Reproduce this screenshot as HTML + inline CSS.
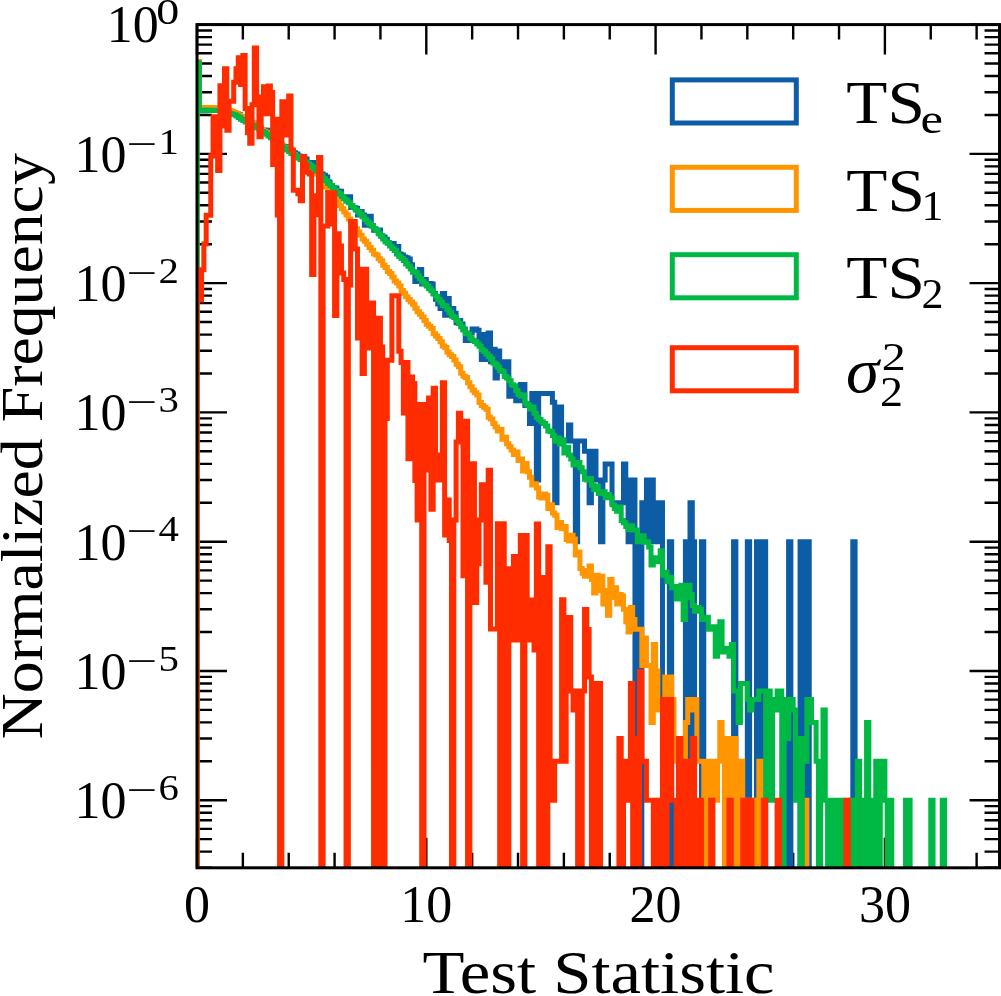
<!DOCTYPE html>
<html lang="en"><head><meta charset="utf-8"><title>Test Statistic</title>
<style>html,body{margin:0;padding:0;background:#fff}svg{display:block}</style></head>
<body>
<svg width="1001" height="996" viewBox="0 0 1001 996" style="display:block">
<defs><clipPath id="ax"><rect x="197.00" y="24.60" width="802.55" height="843.20"/></clipPath></defs>
<rect width="1001" height="996" fill="#fff"/>
<path d="M197.00,867.80v-30M197.00,24.60v30M242.86,867.80v-15M242.86,24.60v15M288.72,867.80v-15M288.72,24.60v15M334.58,867.80v-15M334.58,24.60v15M380.44,867.80v-15M380.44,24.60v15M426.30,867.80v-30M426.30,24.60v30M472.16,867.80v-15M472.16,24.60v15M518.02,867.80v-15M518.02,24.60v15M563.88,867.80v-15M563.88,24.60v15M609.74,867.80v-15M609.74,24.60v15M655.60,867.80v-30M655.60,24.60v30M701.46,867.80v-15M701.46,24.60v15M747.32,867.80v-15M747.32,24.60v15M793.18,867.80v-15M793.18,24.60v15M839.04,867.80v-15M839.04,24.60v15M884.90,867.80v-30M884.90,24.60v30M930.76,867.80v-15M930.76,24.60v15M976.62,867.80v-15M976.62,24.60v15M197.00,24.60h30M999.55,24.60h-30M197.00,153.87h30M999.55,153.87h-30M197.00,114.96h15M999.55,114.96h-15M197.00,92.19h15M999.55,92.19h-15M197.00,76.04h15M999.55,76.04h-15M197.00,63.51h15M999.55,63.51h-15M197.00,53.28h15M999.55,53.28h-15M197.00,44.62h15M999.55,44.62h-15M197.00,37.13h15M999.55,37.13h-15M197.00,30.52h15M999.55,30.52h-15M197.00,283.14h30M999.55,283.14h-30M197.00,244.23h15M999.55,244.23h-15M197.00,221.46h15M999.55,221.46h-15M197.00,205.31h15M999.55,205.31h-15M197.00,192.78h15M999.55,192.78h-15M197.00,182.55h15M999.55,182.55h-15M197.00,173.89h15M999.55,173.89h-15M197.00,166.40h15M999.55,166.40h-15M197.00,159.79h15M999.55,159.79h-15M197.00,412.41h30M999.55,412.41h-30M197.00,373.50h15M999.55,373.50h-15M197.00,350.73h15M999.55,350.73h-15M197.00,334.58h15M999.55,334.58h-15M197.00,322.05h15M999.55,322.05h-15M197.00,311.82h15M999.55,311.82h-15M197.00,303.16h15M999.55,303.16h-15M197.00,295.67h15M999.55,295.67h-15M197.00,289.06h15M999.55,289.06h-15M197.00,541.68h30M999.55,541.68h-30M197.00,502.77h15M999.55,502.77h-15M197.00,480.00h15M999.55,480.00h-15M197.00,463.85h15M999.55,463.85h-15M197.00,451.32h15M999.55,451.32h-15M197.00,441.09h15M999.55,441.09h-15M197.00,432.43h15M999.55,432.43h-15M197.00,424.94h15M999.55,424.94h-15M197.00,418.33h15M999.55,418.33h-15M197.00,670.95h30M999.55,670.95h-30M197.00,632.04h15M999.55,632.04h-15M197.00,609.27h15M999.55,609.27h-15M197.00,593.12h15M999.55,593.12h-15M197.00,580.59h15M999.55,580.59h-15M197.00,570.36h15M999.55,570.36h-15M197.00,561.70h15M999.55,561.70h-15M197.00,554.21h15M999.55,554.21h-15M197.00,547.60h15M999.55,547.60h-15M197.00,800.22h30M999.55,800.22h-30M197.00,761.31h15M999.55,761.31h-15M197.00,738.54h15M999.55,738.54h-15M197.00,722.39h15M999.55,722.39h-15M197.00,709.86h15M999.55,709.86h-15M197.00,699.63h15M999.55,699.63h-15M197.00,690.97h15M999.55,690.97h-15M197.00,683.48h15M999.55,683.48h-15M197.00,676.87h15M999.55,676.87h-15M197.00,867.81h15M999.55,867.81h-15M197.00,851.66h15M999.55,851.66h-15M197.00,839.13h15M999.55,839.13h-15M197.00,828.90h15M999.55,828.90h-15M197.00,820.24h15M999.55,820.24h-15M197.00,812.75h15M999.55,812.75h-15M197.00,806.14h15M999.55,806.14h-15" stroke="#000" stroke-width="2.4" fill="none"/>
<g clip-path="url(#ax)" fill="none" stroke-width="5.00" stroke-linejoin="miter" stroke-miterlimit="10">
<path stroke="#0C5DA5" d="M197.00,897.8V64.0H199.29V110.8H201.59V107.7H203.88V110.7H206.17V108.9H208.47V108.0H210.76V109.2H213.05V109.0H215.34V109.6H217.64V108.2H219.93V109.9H222.22V108.0H224.52V110.4H226.81V111.4H229.10V111.2H231.40V113.8H233.69V114.3H235.98V113.8H238.27V114.8H240.57V117.0H242.86V119.3H245.15V118.5H247.45V119.9H249.74V122.7H252.03V123.1H254.32V123.4H256.62V126.3H258.91V127.6H261.20V131.1H263.50V130.1H265.79V130.2H268.08V132.6H270.38V135.6H272.67V136.4H274.96V143.1H277.25V144.1H279.55V144.6H281.84V147.1H284.13V146.6H286.43V149.8H288.72V148.9H291.01V150.7H293.31V152.8H295.60V153.9H297.89V156.1H300.19V157.9H302.48V159.4H304.77V159.1H307.06V164.0H309.36V164.4H311.65V162.4H313.94V168.5H316.24V170.0H318.53V171.9H320.82V174.1H323.12V175.3H325.41V177.1H327.70V181.9H329.99V185.7H332.29V187.6H334.58V187.9H336.87V191.1H339.17V191.3H341.46V198.0H346.05V200.8H348.34V196.8H350.63V207.4H352.92V207.6H355.22V208.2H357.51V215.0H359.80V211.6H362.10V215.1H364.39V225.3H366.68V223.8H368.98V216.3H371.27V225.7H373.56V230.2H375.85V230.6H378.15V230.0H380.44V235.9H382.73V237.1H385.03V239.2H387.32V242.7H389.61V243.6H394.20V248.6H396.49V246.5H398.78V253.9H401.08V254.9H403.37V257.0H405.66V257.8H407.96V258.9H410.25V264.8H412.54V271.9H414.84V281.6H419.42V269.6H421.71V283.9H424.01V279.4H426.30V285.1H428.59V283.4H430.89V283.9H433.18V293.5H435.47V299.3H437.76V304.1H440.06V308.5H442.35V293.5H444.64V315.2H446.94V298.5H449.23V313.2H451.52V308.5H453.82V313.2H456.11V322.8H458.40V320.6H460.69V324.0H462.99V329.0H465.28V340.6H469.87V333.1H472.16V329.0H476.75V330.3H479.04V342.2H481.33V359.5H483.62V334.5H485.92V359.5H488.21V333.1H490.50V361.8H492.80V349.2H495.09V377.9H497.38V351.1H499.68V361.8H501.97V366.6H504.26V372.0H506.56V361.8H508.85V396.2H511.14V392.0H513.43V388.1H515.73V400.7H520.31V384.5H524.90V405.6H529.49V423.4H531.78V393.5H536.36V480.0H538.66V393.5H552.41V402.2H554.71V502.8H557.00V407.1H561.59V441.1H568.47V424.9H570.76V441.1H575.35V541.7H577.64V441.1H584.52V451.3H589.10V502.8H591.40V451.3H595.98V480.0H600.57V541.7H602.86V480.0H605.15V463.9H612.03V502.8H623.50V463.9H625.79V480.0H628.08V541.7H630.38V480.0H634.96V897.8H637.26V541.7H639.55V897.8H641.84V502.8H644.13V541.7H646.43V480.0H648.72V541.7H651.01V480.0H653.31V541.7H655.60V502.8H657.89V541.7H660.19V502.8H662.48V897.8H669.36V541.7H671.65V897.8H685.41V541.7H687.70V897.8H690.00V502.8H692.29V541.7H694.58V897.8H701.46V541.7H703.75V897.8H733.56V541.7H735.86V897.8H747.32V541.7H749.61V897.8H756.49V541.7H758.79V897.8H761.08V541.7H765.66V897.8H788.59V541.7H790.89V897.8H800.06V541.7H802.35V897.8H804.65V541.7H809.23V897.8H852.80V541.7H855.09V897.8H999.55V897.8"/>
<path stroke="#FF9500" d="M197.00,897.8V61.5H199.29V107.4H201.59V107.4H203.88V107.4H206.17V107.5H208.47V107.6H210.76V107.7H213.05V107.5H215.34V107.4H217.64V107.7H219.93V108.2H222.22V108.6H224.52V109.0H226.81V109.8H229.10V110.5H231.40V111.6H233.69V112.4H235.98V113.4H238.27V115.2H240.57V117.0H242.86V118.1H245.15V119.4H247.45V120.6H249.74V121.9H252.03V123.3H254.32V124.9H256.62V126.2H258.91V127.8H261.20V129.7H263.50V131.2H265.79V132.6H268.08V134.7H270.38V136.1H272.67V138.0H274.96V140.1H277.25V142.4H279.55V144.1H281.84V145.7H284.13V147.5H286.43V149.5H288.72V151.1H291.01V152.8H293.31V154.7H295.60V156.7H297.89V157.8H300.19V159.7H302.48V161.4H304.77V162.9H307.06V164.9H309.36V166.5H311.65V168.8H313.94V171.3H316.24V174.0H318.53V177.2H320.82V180.0H323.12V184.3H325.41V186.8H327.70V189.8H329.99V193.0H332.29V196.2H334.58V198.7H336.87V201.3H339.17V205.5H341.46V208.7H343.75V211.9H346.05V215.1H348.34V219.1H350.63V222.1H352.92V225.6H355.22V228.8H357.51V231.9H359.80V235.3H362.10V239.1H364.39V241.3H366.68V244.2H368.98V247.5H371.27V250.2H373.56V254.1H375.85V255.0H378.15V258.7H380.44V260.7H382.73V265.2H385.03V267.5H387.32V271.5H389.61V273.5H391.90V277.0H394.20V280.9H396.49V282.9H398.78V285.9H401.08V290.4H403.37V293.2H405.66V296.7H407.96V299.6H410.25V301.9H412.54V304.3H414.84V308.3H417.13V311.7H419.42V314.3H421.71V316.9H424.01V320.5H426.30V324.3H428.59V326.3H430.89V328.4H433.18V333.7H435.47V336.0H437.76V338.5H440.06V341.8H442.35V345.9H444.64V347.6H446.94V352.1H449.23V354.7H451.52V356.5H453.82V360.0H456.11V364.3H458.40V366.7H460.69V373.2H462.99V376.3H465.28V377.5H467.57V382.8H469.87V386.8H472.16V390.3H474.45V392.8H476.75V395.0H479.04V402.5H481.33V405.5H483.62V407.3H485.92V409.3H488.21V417.3H490.50V419.0H492.80V423.5H495.09V427.0H497.38V431.0H499.68V429.2H501.97V439.2H504.26V437.2H506.56V443.7H508.85V446.8H511.14V450.0H513.43V454.4H515.73V452.0H518.02V460.4H520.31V459.1H522.61V470.9H524.90V463.4H527.19V471.7H529.49V477.3H531.78V484.9H534.07V483.7H536.36V488.0H538.66V496.9H540.95V497.9H543.24V494.0H545.54V495.2H547.83V508.4H550.12V504.8H552.41V512.9H554.71V515.3H557.00V527.4H559.29V522.4H561.59V528.7H563.88V526.5H566.17V539.5H568.47V541.1H570.76V535.3H573.05V538.9H575.35V554.9H577.64V552.1H579.93V568.5H582.22V573.2H584.52V576.3H586.81V570.4H589.10V565.9H591.40V579.5H593.69V593.1H595.98V575.2H598.28V590.4H600.57V576.3H602.86V603.9H605.15V590.4H607.45V615.2H609.74V579.5H612.03V597.5H614.33V587.8H616.62V603.9H618.91V594.5H621.21V596.0H623.50V609.3H625.79V621.8H628.08V632.0H630.38V607.4H632.67V619.5H634.96V629.3H641.84V665.6H644.13V638.0H646.43V665.6H651.01V722.4H653.31V644.6H655.60V671.0H657.89V709.9H660.19V699.6H664.77V676.9H667.07V722.4H669.36V676.9H671.65V699.6H673.94V738.5H676.24V761.3H678.53V738.5H680.82V800.2H685.41V722.4H687.70V699.6H690.00V709.9H692.29V699.6H696.87V761.3H703.75V897.8H706.05V761.3H708.34V897.8H710.63V761.3H715.22V800.2H717.51V761.3H719.80V722.4H722.10V738.5H724.39V897.8H726.68V738.5H728.98V897.8H731.27V800.2H733.56V738.5H735.86V897.8H738.15V761.3H742.73V897.8H745.03V800.2H747.32V897.8H749.61V800.2H751.91V897.8H754.20V800.2H756.49V897.8H758.79V761.3H763.37V897.8H804.65V800.2H806.94V897.8H999.55V897.8"/>
<path stroke="#00B945" d="M197.00,897.8V62.7H199.29V110.6H201.59V110.4H203.88V110.2H206.17V110.1H208.47V110.4H210.76V110.5H213.05V110.3H215.34V110.4H217.64V110.6H219.93V110.6H222.22V111.2H224.52V111.7H226.81V112.5H229.10V113.4H231.40V114.3H233.69V114.8H235.98V116.0H238.27V117.5H240.57V119.3H242.86V120.6H245.15V122.0H247.45V122.7H249.74V124.2H252.03V125.2H254.32V126.6H256.62V128.1H258.91V129.6H261.20V131.4H263.50V132.6H265.79V134.2H268.08V136.0H270.38V137.7H272.67V139.2H274.96V141.2H277.25V142.9H279.55V144.8H281.84V146.4H284.13V148.2H286.43V149.7H288.72V151.6H291.01V153.4H293.31V155.1H295.60V156.2H297.89V157.9H300.19V159.5H302.48V160.9H304.77V162.3H307.06V163.8H309.36V165.2H311.65V167.1H313.94V169.1H316.24V171.3H318.53V173.2H320.82V176.1H323.12V178.5H325.41V180.7H327.70V183.6H329.99V185.5H332.29V187.5H334.58V190.2H336.87V192.7H339.17V194.3H341.46V196.5H343.75V198.9H346.05V201.1H348.34V202.7H350.63V205.5H352.92V207.6H355.22V209.9H357.51V212.3H359.80V214.3H362.10V216.7H364.39V219.4H366.68V222.0H368.98V223.8H371.27V226.3H373.56V228.6H375.85V230.5H378.15V233.8H380.44V235.8H382.73V239.0H385.03V241.8H387.32V243.2H389.61V246.0H391.90V248.4H394.20V250.5H396.49V253.9H398.78V256.4H401.08V258.4H403.37V260.4H405.66V263.9H407.96V266.3H410.25V269.1H412.54V271.9H414.84V272.6H417.13V275.7H419.42V278.4H421.71V281.4H424.01V283.6H426.30V286.0H428.59V288.8H430.89V290.7H433.18V293.9H435.47V296.2H437.76V299.2H440.06V302.1H442.35V305.4H444.64V306.1H446.94V309.3H449.23V312.6H451.52V316.3H453.82V317.5H456.11V320.4H458.40V323.5H460.69V326.7H462.99V329.9H465.28V333.5H467.57V334.0H469.87V338.2H472.16V340.2H474.45V341.6H476.75V343.9H479.04V346.2H481.33V349.7H483.62V351.5H485.92V354.1H488.21V356.4H490.50V359.0H492.80V362.9H495.09V364.8H497.38V367.2H499.68V370.4H501.97V371.4H504.26V376.5H506.56V377.9H508.85V380.8H511.14V384.8H513.43V385.7H515.73V390.4H518.02V394.4H520.31V395.9H522.61V395.0H524.90V403.2H527.19V404.9H529.49V408.9H531.78V406.9H534.07V413.2H536.36V417.2H538.66V419.5H540.95V421.8H543.24V423.5H545.54V425.9H547.83V430.9H550.12V431.6H552.41V435.6H554.71V441.2H557.00V438.0H559.29V444.0H561.59V439.8H563.88V452.9H566.17V447.3H568.47V455.0H570.76V459.0H573.05V465.0H575.35V462.7H577.64V462.5H579.93V467.8H582.22V471.7H584.52V479.3H586.81V480.0H589.10V478.5H591.40V485.3H593.69V489.8H595.98V485.9H598.28V493.5H600.57V492.5H602.86V491.8H605.15V497.7H607.45V494.4H609.74V497.7H612.03V504.8H614.33V508.4H616.62V511.2H618.91V507.1H621.21V520.4H623.50V522.8H625.79V526.5H628.08V529.6H630.38V525.7H632.67V530.1H637.26V541.7H639.55V538.4H641.84V535.8H644.13V542.2H646.43V541.7H648.72V547.0H651.01V565.0H653.31V558.6H655.60V557.8H657.89V561.7H660.19V550.8H662.48V575.2H664.77V572.3H667.07V581.7H669.36V577.3H671.65V587.8H673.94V586.5H676.24V599.0H678.53V587.8H680.82V585.3H683.12V619.5H685.41V597.5H687.70V585.3H690.00V594.5H692.29V605.6H694.58V611.2H696.87V607.4H699.17V609.3H701.46V619.5H703.75V617.3H708.34V629.3H712.93V626.7H715.22V656.2H717.51V652.1H719.80V621.8H722.10V652.1H724.39V648.2H728.98V656.2H731.27V644.6H733.56V691.0H738.15V722.4H740.44V683.5H747.32V699.6H749.61V709.9H751.91V699.6H758.79V691.0H765.66V800.2H767.96V691.0H770.25V800.2H772.54V699.6H774.84V709.9H777.13V691.0H781.72V897.8H784.01V699.6H786.30V738.5H788.59V699.6H793.18V709.9H795.47V800.2H797.77V738.5H800.06V897.8H802.35V738.5H804.65V761.3H806.94V699.6H811.52V722.4H816.11V761.3H818.40V897.8H820.70V800.2H822.99V709.9H825.28V800.2H827.58V897.8H829.87V800.2H832.16V897.8H836.75V800.2H839.04V897.8H841.33V800.2H843.63V897.8H850.50V800.2H852.80V897.8H855.09V800.2H857.38V761.3H859.68V897.8H861.97V800.2H864.26V897.8H866.56V722.4H868.85V897.8H871.14V800.2H873.44V897.8H875.73V761.3H878.02V897.8H880.31V761.3H884.90V800.2H887.19V897.8H889.49V800.2H891.78V897.8H905.54V800.2H910.12V897.8H930.76V800.2H933.05V897.8H942.23V800.2H944.52V897.8H999.55V897.8"/>
<path stroke="#FF2C00" d="M197.00,897.8V269.8H199.29V300.0H201.59V269.8H203.88V244.1H206.17V215.2H210.76V155.9H213.05V116.7H217.64V170.5H219.93V85.8H222.22V126.0H224.52V68.7H226.81V130.3H229.10V101.2H233.69V82.2H235.98V68.7H238.27V57.8H240.57V84.4H242.86V55.6H245.15V108.4H247.45V132.8H249.74V143.3H252.03V104.8H254.32V48.1H256.62V97.1H258.91V136.8H261.20V97.1H263.50V86.7H265.79V113.7H268.08V86.1H270.38V92.6H272.67V164.4H274.96V119.3H277.25V215.0H279.55V897.8H281.84V101.7H284.13V135.1H286.43V101.7H288.72V96.1H291.01V150.1H293.31V190.2H297.89V193.8H300.19V200.8H302.48V156.4H304.77V165.6H307.06V172.2H309.36V174.0H311.65V274.4H313.94V195.8H316.24V214.8H318.53V157.6H320.82V897.8H323.12V225.9H327.70V192.8H329.99V223.9H332.29V192.8H334.58V315.6H336.87V233.8H339.17V245.9H341.46V273.0H343.75V279.6H346.05V897.8H348.34V285.0H350.63V221.5H355.22V249.1H357.51V338.0H359.80V269.2H362.10V373.6H364.39V269.2H366.68V347.9H368.98V302.9H373.56V897.8H378.15V318.2H380.44V347.1H382.73V897.8H385.03V418.6H387.32V360.2H391.90V295.7H398.78V351.3H401.08V362.6H403.37V413.0H405.66V362.6H407.96V458.8H410.25V377.0H412.54V383.5H414.84V480.5H417.13V520.0H419.42V404.4H421.71V897.8H424.01V404.4H426.30V470.0H428.59V397.9H430.89V509.2H433.18V388.3H435.47V455.0H437.76V480.0H440.06V455.0H442.35V382.7H444.64V534.9H446.94V500.0H449.23V540.5H451.52V897.8H453.82V520.0H456.11V442.1H458.40V413.2H460.69V421.2H462.99V575.8H465.28V421.2H467.57V897.8H469.87V463.8H474.45V602.4H476.75V563.8H479.04V520.0H481.33V484.7H485.92V582.3H488.21V470.2H490.50V629.0H497.38V523.8H499.68V897.8H501.97V523.8H504.26V897.8H508.85V568.8H511.14V640.0H513.43V556.6H515.73V640.0H518.02V556.6H520.31V535.6H522.61V897.8H524.90V535.6H527.19V600.0H529.49V640.0H531.78V600.0H534.07V650.0H536.36V524.1H538.66V897.8H540.95V577.6H543.24V897.8H547.83V546.7H550.12V800.2H554.71V761.3H561.59V599.7H563.88V761.3H566.17V617.4H570.76V691.0H573.05V709.9H575.35V691.0H577.64V897.8H582.22V691.0H584.52V609.6H586.81V629.5H589.10V677.0H591.40V897.8H593.69V683.6H595.98V897.8H598.28V683.6H600.57V897.8H618.91V738.5H621.21V897.8H623.50V761.3H625.79V800.2H630.38V683.6H632.67V897.8H634.96V738.5H637.26V897.8H639.55V671.5H641.84V761.3H646.43V800.2H653.31V897.8H655.60V800.2H657.89V897.8H662.48V699.6H664.77V897.8H667.07V800.2H669.36V699.6H671.65V800.2H676.24V897.8H678.53V738.5H680.82V897.8H683.12V761.3H685.41V897.8H687.70V761.3H690.00V897.8H692.29V738.5H694.58V800.2H696.87V897.8H699.17V800.2H701.46V897.8H710.63V800.2H712.93V897.8H728.98V800.2H731.27V897.8H742.73V800.2H745.03V897.8H747.32V800.2H751.91V897.8H763.37V800.2H765.66V897.8H777.13V800.2H779.42V897.8H845.92V800.2H848.21V897.8H999.55V897.8"/>
</g>
<rect x="197.00" y="24.60" width="802.55" height="843.20" fill="none" stroke="#000" stroke-width="3"/>
<g font-family="'Liberation Serif', 'DejaVu Serif', serif" fill="#000">
<text x="106.7" y="42.4" font-size="52">10</text>
<text x="156.2" y="24.3" font-size="36" textLength="23" lengthAdjust="spacingAndGlyphs">0</text>
<text x="74.5" y="171.7" font-size="52">10</text>
<text x="126.2" y="155.6" font-size="36" textLength="30.8" lengthAdjust="spacingAndGlyphs">−</text>
<text x="158.4" y="153.6" font-size="36" textLength="20.4" lengthAdjust="spacingAndGlyphs">1</text>
<text x="74.5" y="300.9" font-size="52">10</text>
<text x="126.2" y="284.8" font-size="36" textLength="30.8" lengthAdjust="spacingAndGlyphs">−</text>
<text x="158.4" y="282.8" font-size="36" textLength="20.4" lengthAdjust="spacingAndGlyphs">2</text>
<text x="74.5" y="430.2" font-size="52">10</text>
<text x="126.2" y="414.1" font-size="36" textLength="30.8" lengthAdjust="spacingAndGlyphs">−</text>
<text x="158.4" y="412.1" font-size="36" textLength="20.4" lengthAdjust="spacingAndGlyphs">3</text>
<text x="74.5" y="559.5" font-size="52">10</text>
<text x="126.2" y="543.4" font-size="36" textLength="30.8" lengthAdjust="spacingAndGlyphs">−</text>
<text x="158.4" y="541.4" font-size="36" textLength="20.4" lengthAdjust="spacingAndGlyphs">4</text>
<text x="74.5" y="688.8" font-size="52">10</text>
<text x="126.2" y="672.7" font-size="36" textLength="30.8" lengthAdjust="spacingAndGlyphs">−</text>
<text x="158.4" y="670.7" font-size="36" textLength="20.4" lengthAdjust="spacingAndGlyphs">5</text>
<text x="74.5" y="818.0" font-size="52">10</text>
<text x="126.2" y="801.9" font-size="36" textLength="30.8" lengthAdjust="spacingAndGlyphs">−</text>
<text x="158.4" y="799.9" font-size="36" textLength="20.4" lengthAdjust="spacingAndGlyphs">6</text>
<text x="197.0" y="922" font-size="52" text-anchor="middle">0</text>
<text x="426.3" y="922" font-size="52" text-anchor="middle">10</text>
<text x="655.6" y="922" font-size="52" text-anchor="middle">20</text>
<text x="884.9" y="922" font-size="52" text-anchor="middle">30</text>
<text x="598.6" y="992.8" font-size="62" text-anchor="middle" textLength="352" lengthAdjust="spacingAndGlyphs">Test Statistic</text>
<text transform="translate(42.4,446.2) rotate(-90)" font-size="60" text-anchor="middle" textLength="586" lengthAdjust="spacingAndGlyphs">Normalized Frequency</text>
<rect x="672.3" y="79.9" width="124" height="43.1" fill="none" stroke="#0C5DA5" stroke-width="5"/>
<rect x="672.3" y="167.3" width="124" height="43.1" fill="none" stroke="#FF9500" stroke-width="5"/>
<rect x="672.3" y="254.7" width="124" height="43.1" fill="none" stroke="#00B945" stroke-width="5"/>
<rect x="672.3" y="347.7" width="124" height="43.1" fill="none" stroke="#FF2C00" stroke-width="5"/>
<text x="846.3" y="123.2" font-size="61" textLength="78.5" lengthAdjust="spacingAndGlyphs">TS</text>
<text x="920.6" y="132.7" font-size="42" textLength="22.5" lengthAdjust="spacingAndGlyphs">e</text>
<text x="846.3" y="210.6" font-size="61" textLength="78.5" lengthAdjust="spacingAndGlyphs">TS</text>
<text x="921.5" y="220.1" font-size="42" textLength="22" lengthAdjust="spacingAndGlyphs">1</text>
<text x="846.3" y="298.0" font-size="61" textLength="78.5" lengthAdjust="spacingAndGlyphs">TS</text>
<text x="921.5" y="307.5" font-size="42" textLength="22" lengthAdjust="spacingAndGlyphs">2</text>
<text x="846" y="391.5" font-size="64" font-style="italic" textLength="33" lengthAdjust="spacingAndGlyphs">σ</text>
<text x="881.8" y="370.2" font-size="40" textLength="24" lengthAdjust="spacingAndGlyphs">2</text>
<text x="880" y="406.4" font-size="42" textLength="23" lengthAdjust="spacingAndGlyphs">2</text>
</g>
</svg>
</body></html>
